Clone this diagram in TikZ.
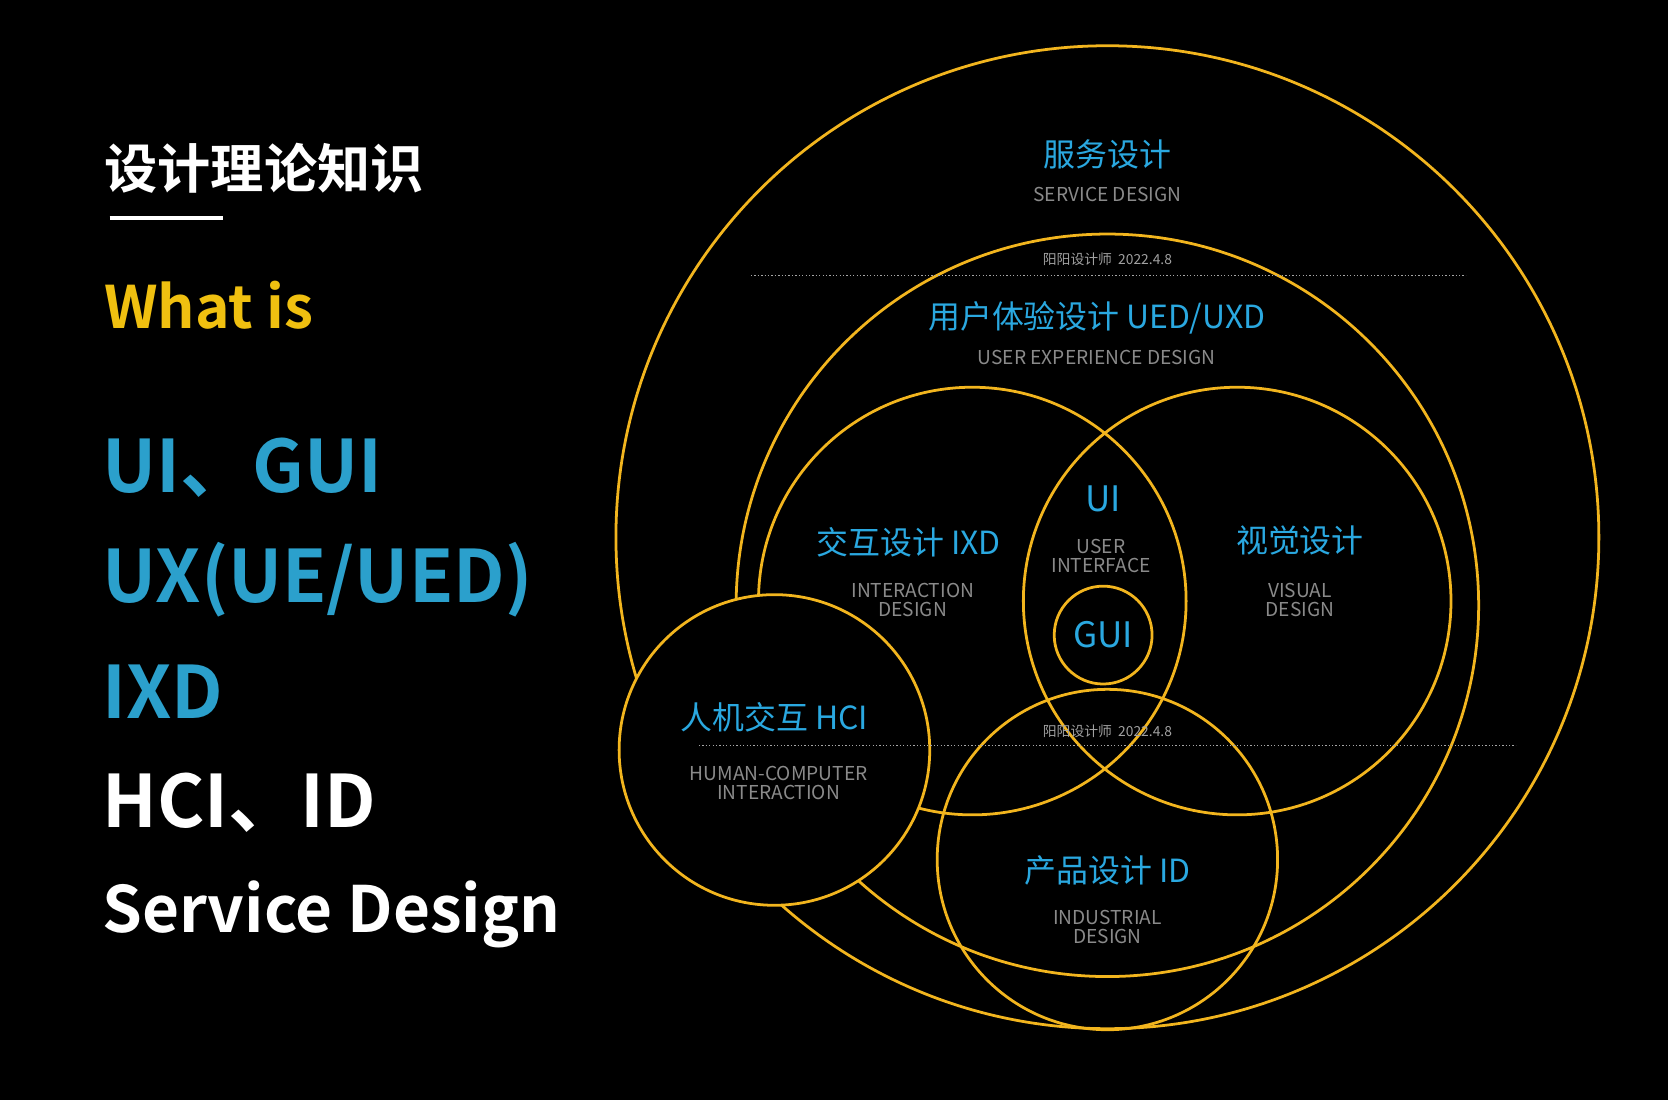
\documentclass[tikz,border=0pt]{standalone}
\usepackage{fontspec}
\setmainfont{Noto Sans CJK SC}
\newfontfamily\cjkb{Noto Sans CJK SC Bold}
\newcommand{\fsz}[1]{\fontsize{#1}{#1}\selectfont}
\definecolor{ring}{HTML}{F2B51E}
\definecolor{lblue}{HTML}{2AA8E0}
\definecolor{dblue}{HTML}{2BA0CC}
\definecolor{wyel}{HTML}{F0C010}
\definecolor{gtext}{HTML}{8A8A8A}
\begin{document}
\begin{tikzpicture}[x=1pt,y=-1pt,
  ringc/.style={draw=ring,line width=2.6pt},
  title/.style={text=lblue,font=\fsz{30}},
  sub/.style={text=gtext,font=\fsz{18},align=center},
  wm/.style={text=gtext!80!white,font=\fsz{13}},
  dline/.style={draw=gray!70,dotted,line width=1.2pt},
  lefttxt/.style={anchor=west,inner sep=0pt,font=\cjkb}]
\fill[black] (0,0) rectangle (1568,1034);
\useasboundingbox (0,0) rectangle (1568,1034);
% rings
\draw[ringc] (1041,505) circle (462);
\draw[ringc] (1041,569) circle (349);
\draw[ringc] (914,565) circle (201);
\draw[ringc] (1163,565) circle (201);
\draw[ringc] (1037,597) circle (46);
\draw[ringc,fill=black] (728,705) circle (146);
\draw[ringc] (1041,808) circle (160);
% dotted lines
\coordinate (d1a) at (706,259); \coordinate (d1b) at (1378,259);
\coordinate (d2a) at (657,701); \coordinate (d2b) at (1425,701);
\draw[dline] (d1a) -- (d1b);
\draw[dline] (d2a) -- (d2b);
\node[wm] (w1) at (1041,244) {阳阳设计师\ \ 2022.4.8};
\node[wm] (w2) at (1041,687) {阳阳设计师\ \ 2022.4.8};
% labels
\node[title] (sd) at (1041,145) {服务设计};
\node[sub] (sds) at (1041,183) {SERVICE DESIGN};
\node[title] (ued) at (1031,299) {用户体验设计 UED/UXD};
\node[sub] (ueds) at (1031,336) {USER EXPERIENCE DESIGN};
\node[title] (ixd) at (854,510) {交互设计 IXD};
\node[sub] (ixds) at (858,564) {INTERACTION\\DESIGN};
\node[title,font=\fsz{33}] (ui) at (1037,469) {UI};
\node[sub] (uis) at (1035,523) {USER\\INTERFACE};
\node[title,font=\fsz{33}] (gui) at (1037,597) {GUI};
\node[title] (vd) at (1222,508) {视觉设计};
\node[sub] (vds) at (1222,564) {VISUAL\\DESIGN};
\node[title] (hci) at (728,674) {人机交互 HCI};
\node[sub] (hcis) at (732,736) {HUMAN-COMPUTER\\INTERACTION};
\node[title] (id) at (1041,818) {产品设计 ID};
\node[sub] (ids) at (1041,871) {INDUSTRIAL\\DESIGN};
% left column
\node[lefttxt,text=white,font=\cjkb\fsz{50}] (t0) at (98,158) {设计理论知识};
\coordinate (u1) at (103,205); \coordinate (u2) at (210,205);
\draw[white,line width=3pt] (u1) -- (u2);
\node[lefttxt,text=wyel,font=\cjkb\fsz{55}] (t1) at (98,287) {What is};
\node[lefttxt,text=dblue,font=\cjkb\fsz{68}] (t2) at (96,440) {UI、GUI};
\node[lefttxt,text=dblue,font=\cjkb\fsz{68}] (t3) at (96,545) {UX(UE/UED)};
\node[lefttxt,text=dblue,font=\cjkb\fsz{68}] (t4) at (96,650) {IXD};
\node[lefttxt,text=white,font=\cjkb\fsz{68}] (t5) at (96,755) {HCI、ID};
\node[lefttxt,text=white,font=\cjkb\fsz{60}] (t6) at (96,860) {Service Design};
\end{tikzpicture}
\end{document}
